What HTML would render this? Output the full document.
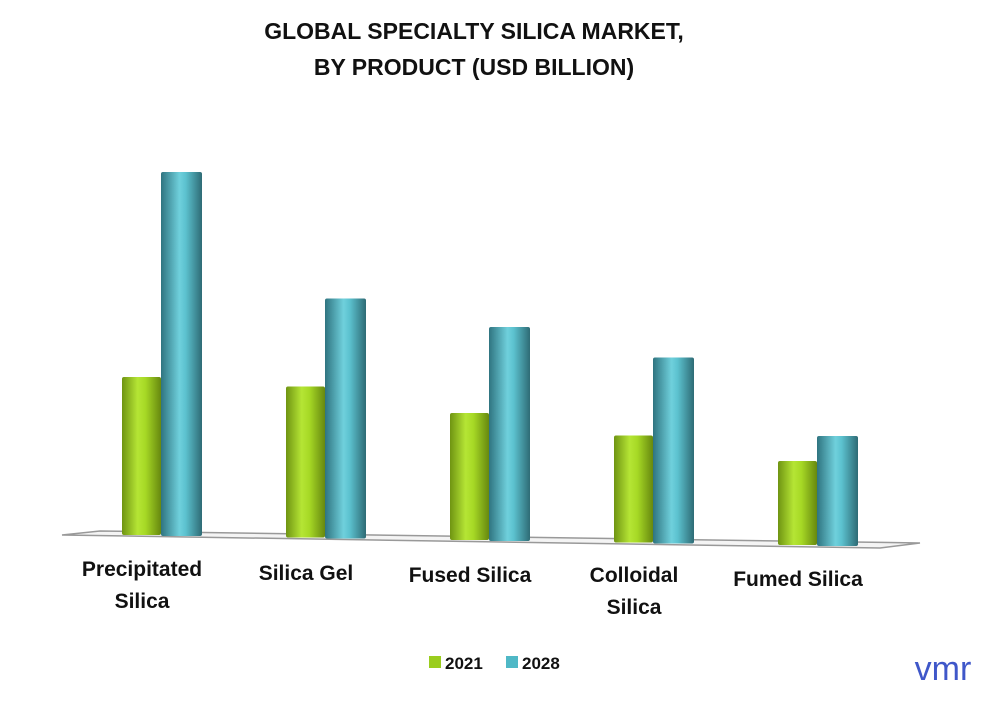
<!DOCTYPE html>
<html><head><meta charset="utf-8"><style>
body{margin:0;background:#fff;}
svg text{font-family:"Liberation Sans",sans-serif;font-weight:bold;fill:#111;}
</style></head><body>
<svg width="986" height="696">
<defs>
<linearGradient id="gG" x1="0" x2="1"><stop offset="0" stop-color="#6f9412"/><stop offset="0.4" stop-color="#b5e535"/><stop offset="0.6" stop-color="#a6d925"/><stop offset="1" stop-color="#67880f"/></linearGradient>
<linearGradient id="gB" x1="0" x2="1"><stop offset="0" stop-color="#2f7480"/><stop offset="0.45" stop-color="#6fd0dc"/><stop offset="0.6" stop-color="#5cc2cf"/><stop offset="1" stop-color="#2e6b75"/></linearGradient>
</defs>
<text x="474" y="39" font-size="23" text-anchor="middle">GLOBAL SPECIALTY SILICA MARKET,</text>
<text x="474" y="75" font-size="23" text-anchor="middle">BY PRODUCT (USD BILLION)</text>
<polygon points="100,531 920,543 880,548 62,535" fill="#f4f4f4" stroke="#999" stroke-width="1.5"/>
<g id="bars"></g>
<g id="labels"></g>
<rect x="429" y="656" width="12" height="12" fill="#9acd1e"/>
<text x="445" y="669" font-size="17">2021</text>
<rect x="506" y="656" width="12" height="12" fill="#4fb8c6"/>
<text x="522" y="669" font-size="17">2028</text>
<text x="943" y="680" font-size="34" text-anchor="middle" style="fill:#3f57c9;font-weight:normal">vmr</text>
</svg>
<script>
const categories=[["Precipitated","Silica"],["Silica Gel"],["Fused Silica"],["Colloidal","Silica"],["Fumed Silica"]];
const values2021=[7.9,7.55,6.35,5.35,4.2];
const values2028=[18.2,12.0,10.7,9.3,5.5];
const ns="http://www.w3.org/2000/svg";
const pxPer=20;
function baseY(i){return 535+i*2.5;}
function groupX(i){return 122+i*164;}
function h(v){return v*pxPer;}
const bars=document.getElementById('bars'),labels=document.getElementById('labels');
function bar(x,w,v,b,fill,name){
  const y=b-h(v);
  const r=document.createElementNS(ns,'rect');
  r.setAttribute('x',x);r.setAttribute('y',y);r.setAttribute('width',w);r.setAttribute('height',h(v));
  r.setAttribute('fill',fill);r.setAttribute('rx',2);
  
  
  bars.appendChild(r);
}
categories.forEach((c,i)=>{
  const x=groupX(i),b=baseY(i);
  bar(x,39,values2021[i],b,'url(#gG)','bar-2021-'+i);
  bar(x+39,41,values2028[i],b+1,'url(#gB)','bar-2028-'+i);
  const cx=x+20;
  c.forEach((line,j)=>{
    const t=document.createElementNS(ns,'text');
    t.setAttribute('x',cx);t.setAttribute('y',(c.length>1?576:578)+i*2+j*32);
    t.setAttribute('font-size','21');t.setAttribute('text-anchor','middle');
    t.textContent=line;
    
    
    labels.appendChild(t);
  });
});
</script>
</body></html>
